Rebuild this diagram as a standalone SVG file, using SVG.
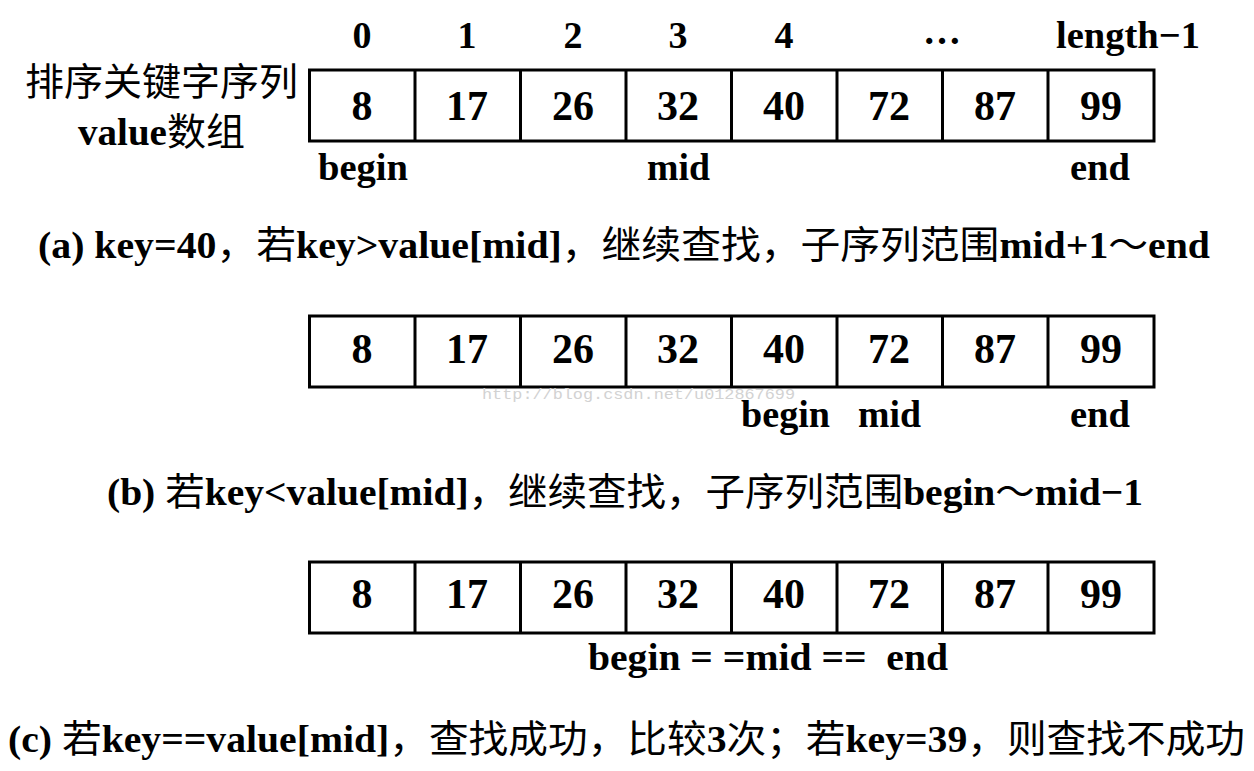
<svg xmlns="http://www.w3.org/2000/svg" width="1254" height="771" viewBox="0 0 1254 771">
<style>
.bg{fill:#fff}
.box{fill:#fff;stroke:#000;stroke-width:3}
.div{stroke:#000;stroke-width:3}
text{font-family:"Liberation Serif","Times New Roman",serif;font-weight:bold;fill:#000;white-space:pre}
.num{font-size:42px;text-anchor:middle}
.idx{font-size:38px;text-anchor:middle}
.lbl{font-size:38px}
.cap{font-size:38px}
.cj{font-family:"Noto Sans CJK SC","Noto Sans CJK JP",sans-serif;font-weight:normal}
.wm{font-family:"Liberation Mono","DejaVu Sans Mono",monospace;font-weight:normal;font-size:15px;fill:#d2d2d2}
</style>
<defs>
<g id="cells">
<rect class="box" x="309.5" y="0" width="844.5" height="71"/>
<path class="div" d="M415,0V71M520.5,0V71M626,0V71M731.5,0V71M837,0V71M942.5,0V71M1048,0V71"/>
</g>
</defs>
<rect class="bg" x="0" y="0" width="1254" height="771"/>

<g id="indices">
<text class="idx" x="362" y="48">0</text>
<text class="idx" x="467" y="48">1</text>
<text class="idx" x="573" y="48">2</text>
<text class="idx" x="678" y="48">3</text>
<text class="idx" x="784" y="48">4</text>
<text class="idx" x="942" y="44">…</text>
<text class="idx" x="1128" y="48" textLength="144" lengthAdjust="spacingAndGlyphs">length−1</text>
</g>

<g id="array-label">
<text class="lbl cj" x="25" y="95" textLength="273" lengthAdjust="spacingAndGlyphs">排序关键字序列</text>
<text class="lbl" x="78" y="145" textLength="167" lengthAdjust="spacingAndGlyphs">value<tspan class="cj">数组</tspan></text>
</g>

<g id="array-a">
<use href="#cells" y="70"/>
<text class="num" x="362" y="120">8</text>
<text class="num" x="467" y="120">17</text>
<text class="num" x="573" y="120">26</text>
<text class="num" x="678" y="120">32</text>
<text class="num" x="784" y="120">40</text>
<text class="num" x="889" y="120">72</text>
<text class="num" x="995" y="120">87</text>
<text class="num" x="1101" y="120">99</text>
</g>
<g id="pointers-a">
<text class="lbl" x="318" y="180" textLength="90" lengthAdjust="spacingAndGlyphs">begin</text>
<text class="lbl" x="647" y="180" textLength="63" lengthAdjust="spacingAndGlyphs">mid</text>
<text class="lbl" x="1070" y="180" textLength="60" lengthAdjust="spacingAndGlyphs">end</text>
</g>
<g id="caption-a">
<text class="cap" x="38" y="258" textLength="1172" lengthAdjust="spacingAndGlyphs">(a) key=40<tspan class="cj">，若</tspan>key&gt;value[mid]<tspan class="cj">，继续查找，子序列范围</tspan>mid+1<tspan class="cj">～</tspan>end</text>
</g>

<g id="array-b">
<use href="#cells" y="316"/>
<text class="num" x="362" y="363">8</text>
<text class="num" x="467" y="363">17</text>
<text class="num" x="573" y="363">26</text>
<text class="num" x="678" y="363">32</text>
<text class="num" x="784" y="363">40</text>
<text class="num" x="889" y="363">72</text>
<text class="num" x="995" y="363">87</text>
<text class="num" x="1101" y="363">99</text>
</g>
<text class="wm" x="482" y="399" textLength="313" lengthAdjust="spacingAndGlyphs">http://blog.csdn.net/u012867699</text>
<g id="pointers-b">
<text class="lbl" x="741" y="427" textLength="89" lengthAdjust="spacingAndGlyphs">begin</text>
<text class="lbl" x="858" y="427" textLength="63" lengthAdjust="spacingAndGlyphs">mid</text>
<text class="lbl" x="1070" y="427" textLength="60" lengthAdjust="spacingAndGlyphs">end</text>
</g>
<g id="caption-b">
<text class="cap" x="107" y="505" textLength="1036" lengthAdjust="spacingAndGlyphs">(b) <tspan class="cj">若</tspan>key&lt;value[mid]<tspan class="cj">，继续查找，子序列范围</tspan>begin<tspan class="cj">～</tspan>mid−1</text>
</g>

<g id="array-c">
<use href="#cells" y="562"/>
<text class="num" x="362" y="608">8</text>
<text class="num" x="467" y="608">17</text>
<text class="num" x="573" y="608">26</text>
<text class="num" x="678" y="608">32</text>
<text class="num" x="784" y="608">40</text>
<text class="num" x="889" y="608">72</text>
<text class="num" x="995" y="608">87</text>
<text class="num" x="1101" y="608">99</text>
</g>
<g id="pointers-c">
<text class="lbl" x="588" y="670" textLength="360" lengthAdjust="spacingAndGlyphs">begin = =mid ==  end</text>
</g>
<g id="caption-c">
<text class="cap" x="8" y="752" textLength="1237" lengthAdjust="spacingAndGlyphs">(c) <tspan class="cj">若</tspan>key==value[mid]<tspan class="cj">，查找成功，比较</tspan>3<tspan class="cj">次；若</tspan>key=39<tspan class="cj">，则查找不成功</tspan></text>
</g>
</svg>
